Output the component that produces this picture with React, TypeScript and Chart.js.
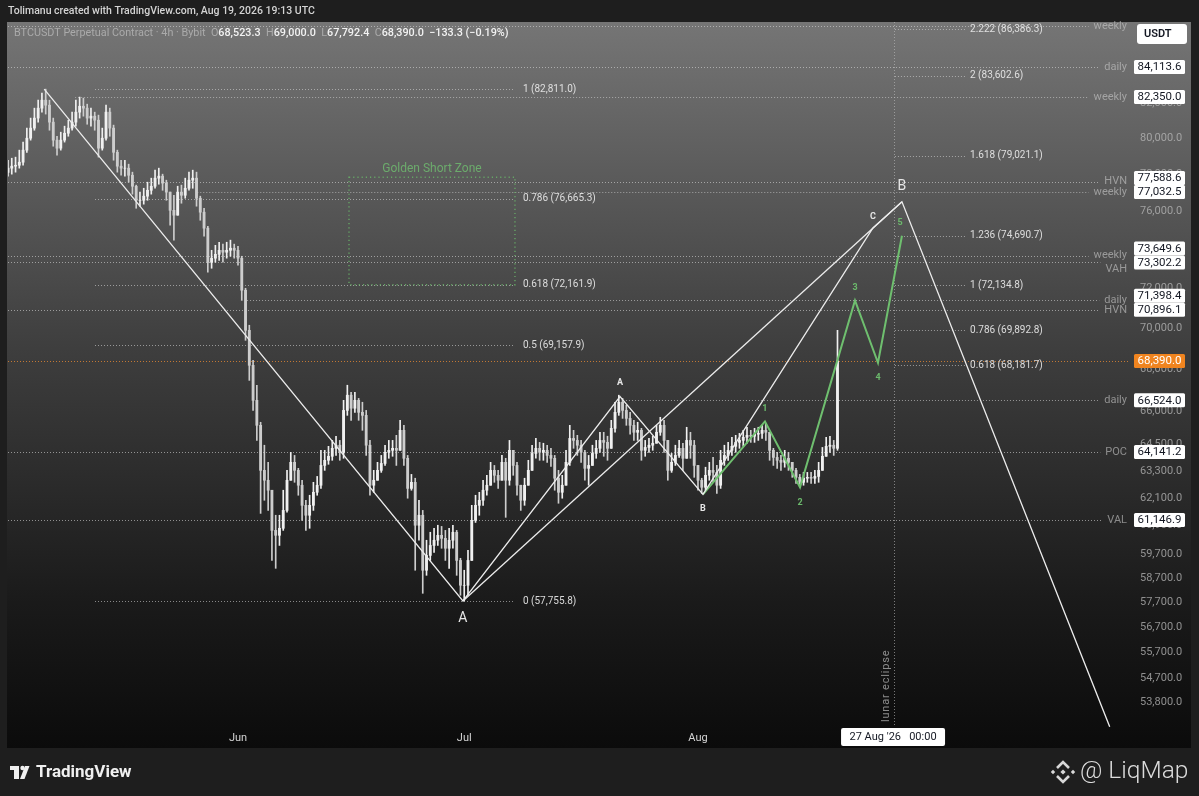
import React, { useEffect, useRef } from 'react';
import { Chart, registerables } from 'chart.js';

Chart.register(...registerables);

// ---------- DATA ----------
// x values are days from 2026-06-01 00:00 UTC; candles are 12h bars
const candleStartDay = -30.5;
const candleStepDays = 0.5;
const firstOpen = 78100;

const closes = [
  78330, 78440, 78490, 78660, 79330, 80000, 80570, 81140, 81710, 82170,
  81880, 80910, 79890, 79440, 79890, 80280, 80570, 80910, 81480, 81820,
  81710, 81140, 81250, 81020, 79440, 80000, 81480, 80570, 79210, 78440,
  78330, 78330, 77940, 77340, 76580, 76580, 76800, 77120, 77340, 77780,
  77890, 77510, 77020, 76040, 75780, 77020, 76850, 77230, 77670, 77780,
  76690, 75940, 75090, 73310, 73520, 73720, 73930, 73830, 73930, 74040,
  73930, 73520, 71880, 69880, 68180, 66520, 65360, 63320, 62880, 62440,
  60700, 60490, 60790, 61560, 62880, 63680, 63320, 62660, 61780, 61350,
  61780, 62350, 62660, 63540, 63770, 63950, 64310, 64450, 64130, 66050,
  66760, 66150, 66520, 65960, 65820, 64450, 62660, 62880, 63320, 63630,
  64130, 64220, 64310, 64220, 65130, 63860, 62520, 62790, 60920, 61350,
  59020, 59640, 60060, 60280, 60490, 60360, 59940, 60280, 60620, 59430,
  58400, 58400, 59430, 61130, 61780, 62000, 62440, 62660, 63320, 63100,
  62880, 63680, 62880, 64220, 63540, 62660, 62000, 62660, 63320, 64080,
  64310, 64130, 64220, 63990, 63860, 62970, 62350, 62660, 63680, 64760,
  64670, 64450, 64130, 63410, 63540, 64080, 64310, 64670, 64580, 64310,
  65220, 65960, 66430, 66050, 65680, 65360, 65040, 65130, 64220, 64350,
  64450, 64540, 65040, 65360, 64670, 63320, 63680, 63990, 64310, 63860,
  64670, 64450, 63540, 62880, 62570, 63100, 63320, 63230, 62660, 63770,
  63990, 64220, 64400, 64580, 64670, 64810, 64900, 64860, 64950, 64990,
  65130, 65040, 64220, 63900, 63770, 63680, 63860, 63680, 63320, 63010,
  62790, 62970, 63010, 62970, 63050, 63320, 63950, 64400, 64450, 64310,
  68390,
];

const highs = [
  78770, 78880, 78940, 79330, 79780, 80570, 81140, 81710, 82170, 82580,
  82811, 82170, 81140, 80110, 80340, 80680, 81020, 81480, 82170, 82350,
  82290, 81940, 81710, 81480, 81310, 80570, 81880, 81710, 80740, 79330,
  78770, 78770, 78550, 78110, 77400, 77020, 77230, 77560, 77780, 78220,
  78330, 78000, 77670, 77020, 76850, 77340, 77400, 77780, 78110, 78220,
  78110, 76800, 76150, 75190, 73930, 74190, 74350, 74250, 74350, 74460,
  74250, 74140, 73620, 71980, 70130, 68420, 67230, 65500, 64450, 63680,
  62440, 61350, 61350, 62440, 63320, 64130, 63990, 63410, 62880, 62000,
  62220, 62790, 63050, 64220, 64220, 64400, 64670, 64860, 64670, 66520,
  67230, 66900, 66900, 66610, 66430, 66050, 64670, 63320, 63680, 63990,
  64450, 64670, 64670, 64900, 65590, 65360, 63990, 63140, 62970, 62000,
  61560, 60280, 60620, 60790, 60920, 60870, 60700, 60790, 60920, 60700,
  59520, 59020, 59850, 61780, 62220, 62350, 62880, 63100, 63680, 63540,
  63320, 63990, 63860, 64670, 64220, 63680, 62660, 62970, 63770, 64450,
  64760, 64580, 64540, 64450, 64310, 63990, 63320, 63100, 64220, 65360,
  65130, 64900, 64670, 64220, 63990, 64450, 64670, 65040, 65040, 64860,
  65590, 66430, 66760, 66610, 66290, 65960, 65590, 65500, 65220, 64670,
  64760, 64860, 65360, 65730, 65590, 64450, 64080, 64450, 64670, 64540,
  65270, 65040, 64670, 63320, 62970, 63460, 63680, 63900, 63540, 64220,
  64450, 64580, 64810, 64900, 64990, 65130, 65270, 65130, 65220, 65270,
  65360, 65450, 65040, 64310, 64130, 63990, 64220, 64130, 63680, 63410,
  63140, 63230, 63230, 63230, 63320, 63680, 64350, 64810, 64860, 64670,
  69880,
];

const lows = [
  77890, 78000, 78110, 78330, 78490, 79210, 79890, 80450, 80910, 81480,
  81370, 80450, 79550, 79050, 79330, 79780, 80110, 80450, 80680, 81140,
  81250, 80790, 80680, 80450, 78940, 79330, 79890, 80110, 78770, 78110,
  77940, 77890, 77560, 76910, 76150, 76260, 76370, 76580, 76910, 77230,
  77450, 77120, 76580, 75250, 74460, 75780, 76420, 76690, 77120, 77230,
  76260, 75510, 74670, 72800, 73000, 73310, 73410, 73310, 73520, 73620,
  73520, 73160, 71370, 69390, 67460, 66050, 64670, 61430, 62000, 61560,
  59430, 59100, 60060, 60700, 61480, 62880, 62790, 62220, 61130, 60700,
  60790, 61560, 62220, 62520, 63320, 63590, 63770, 63990, 63770, 63860,
  65820, 65590, 65960, 65590, 65130, 63990, 62220, 62350, 62880, 63230,
  63540, 63860, 63950, 63540, 64450, 63540, 62090, 62440, 59020, 60280,
  58070, 58810, 59430, 59770, 60060, 59940, 59430, 59100, 59940, 58810,
  57990, 57756, 57990, 59430, 61040, 61350, 61780, 62220, 62660, 62790,
  62520, 63100, 61260, 62660, 63100, 62220, 61560, 61780, 62660, 63320,
  63860, 63770, 63770, 63680, 63500, 62440, 61870, 62090, 62880, 63540,
  64310, 63990, 63680, 62880, 62660, 63540, 63860, 64130, 63950, 63770,
  64310, 65040, 65820, 65680, 65360, 64950, 64670, 64670, 63770, 63950,
  64130, 64220, 64580, 64900, 64130, 62880, 63230, 63540, 63900, 63320,
  64220, 63860, 63010, 62440, 62300, 62440, 62880, 62790, 62300, 62520,
  63540, 63770, 63990, 64130, 64310, 64400, 64540, 64580, 64580, 64670,
  64760, 64670, 63770, 63540, 63410, 63320, 63460, 63320, 63010, 62740,
  62570, 62660, 62790, 62740, 62740, 62790, 63540, 63990, 64130, 63990,
  64220,
];

const monthTickDays = [0, 30, 61];
const monthTickLabels = ['Jun', 'Jul', 'Aug'];
const priceTicks = [
  86000, 84000, 82000, 80000, 78000, 76000, 74000, 72000, 70000, 68000, 66000,
  64500, 63300, 62100, 60900, 59700, 58700, 57700, 56700, 55700, 54700, 53800,
];
const priceMin = 52854;
const priceMax = 86819;
const dayMin = -30.5;
const dayMax = 118.29;

// horizontal levels with right-side tags
const levelPrices = [86575, 84113.6, 82350.0, 77588.6, 77032.5, 73649.6, 73302.2, 71398.4, 70896.1, 66524.0, 64141.2, 61146.9];
const levelTags = ['weekly', 'daily', 'weekly', 'HVN', 'weekly', 'weekly', 'VAH', 'daily', 'HVN', 'daily', 'POC', 'VAL'];
const levelStartDays = [-30.5, -30.5, -21.6, -30.5, -5.4, -30.5, -30.5, 1.2, -30.5, 51.05, -30.5, -30.5];
const levelHasBox = [false, true, true, true, true, true, true, true, true, true, true, true];
const lastPrice = 68390.0;

// Fib retracement (left) and extension (right)
const leftFibRatios = ['1', '0.786', '0.618', '0.5', '0'];
const leftFibPrices = [82811.0, 76665.3, 72161.9, 69157.9, 57755.8];
const leftFibDays = [-18.96, 36.73];
const rightFibRatios = ['2.222', '2', '1.618', '1.236', '1', '0.786', '0.618'];
const rightFibPrices = [86386.3, 83602.6, 79021.1, 74690.7, 72134.8, 69892.8, 68181.7];
const rightFibDays = [87.12, 96.41];

// Golden short zone box
const zoneDays = [14.72, 36.73];
const zonePrices = [77830, 72161.9];

// Wave drawings
const abcDays = [-25.7, 29.83, 50.66, 61.66, 84.2, 88.05, 115.6];
const abcPrices = [82811, 57755.8, 66700, 62260, 75099, 76500, 52860];
const abLegDays = [29.83, 88.05];
const abLegPrices = [57755.8, 76500];
const impulseDays = [61.66, 69.88, 74.53, 81.82, 84.87, 88.05];
const impulsePrices = [62260, 65540, 62570, 71370, 68300, 74690.7];
const impulseLabels = ['', '1', '2', '3', '4', '5'];

const eclipseDay = 87;

// ---------- helpers ----------
const FONT = 'Roboto, "Liberation Sans", "DejaVu Sans", sans-serif';
const fmt1 = (v: number) => v.toLocaleString('en-US', { minimumFractionDigits: 1, maximumFractionDigits: 1 });

function txt(ctx: CanvasRenderingContext2D, s: string, x: number, y: number, font: string, color: string, align: CanvasTextAlign = 'left') {
  ctx.font = font;
  ctx.fillStyle = color;
  ctx.textAlign = align;
  ctx.textBaseline = 'middle';
  ctx.fillText(s, x, y);
}

function dotted(ctx: CanvasRenderingContext2D, x0: number, y0: number, x1: number, y1: number, color: string, dash: number[] = [1, 2], w = 1) {
  ctx.save();
  ctx.strokeStyle = color;
  ctx.lineWidth = w;
  ctx.setLineDash(dash);
  ctx.beginPath();
  ctx.moveTo(x0, y0);
  ctx.lineTo(x1, y1);
  ctx.stroke();
  ctx.restore();
}

function roundRect(ctx: CanvasRenderingContext2D, x: number, y: number, w: number, h: number, r: number, fill: string) {
  ctx.fillStyle = fill;
  ctx.beginPath();
  ctx.roundRect(x, y, w, h, r);
  ctx.fill();
}

const overlayPlugin = {
  id: 'tvOverlay',
  beforeDraw(chart: any) {
    const ctx: CanvasRenderingContext2D = chart.ctx;
    ctx.save();
    ctx.fillStyle = '#1e1e1e';
    ctx.fillRect(0, 0, chart.width, chart.height);
    const g = ctx.createLinearGradient(0, 22, 0, 748);
    g.addColorStop(0, '#757575');
    g.addColorStop(0.45, '#3e3e3e');
    g.addColorStop(0.8, '#1a1a1a');
    g.addColorStop(1, '#0b0b0b');
    ctx.fillStyle = g;
    ctx.fillRect(7, 22, 1184, 726);
    ctx.restore();
  },
  beforeDatasetsDraw(chart: any) {
    const ctx: CanvasRenderingContext2D = chart.ctx;
    const xs = chart.scales.x;
    const ys = chart.scales.y;
    const area = chart.chartArea;
    const px = (d: number) => xs.getPixelForValue(d);
    const py = (p: number) => ys.getPixelForValue(p);
    const lineCol = 'rgba(215,215,215,0.6)';
    ctx.save();
    ctx.font = `11px ${FONT}`;
    const tagRight = 1127;
    levelPrices.forEach((p, i) => {
      const y = Math.round(py(p)) + 0.5;
      const w = ctx.measureText(levelTags[i]).width;
      dotted(ctx, px(levelStartDays[i]), y, tagRight - w - 5, y, lineCol);
    });
    const yl = Math.round(py(lastPrice)) + 0.5;
    dotted(ctx, area.left, yl, area.right, yl, 'rgba(240,140,50,0.75)');
    leftFibPrices.forEach((p) => {
      const y = Math.round(py(p)) + 0.5;
      dotted(ctx, px(leftFibDays[0]), y, px(leftFibDays[1]), y, lineCol);
    });
    rightFibPrices.forEach((p) => {
      const y = Math.round(py(p)) + 0.5;
      dotted(ctx, px(rightFibDays[0]), y, px(rightFibDays[1]), y, lineCol);
    });
    const xe = Math.round(px(eclipseDay)) + 0.5;
    dotted(ctx, xe, area.top, xe, area.bottom, 'rgba(190,190,190,0.6)', [1, 2]);
    const zx0 = px(zoneDays[0]);
    const zx1 = px(zoneDays[1]);
    const zy0 = py(zonePrices[0]);
    const zy1 = py(zonePrices[1]);
    ctx.save();
    ctx.strokeStyle = 'rgba(105,180,105,0.85)';
    ctx.lineWidth = 1.4;
    ctx.setLineDash([1.2, 3]);
    ctx.strokeRect(zx0, zy0, zx1 - zx0, zy1 - zy0);
    ctx.restore();
    txt(ctx, 'Golden Short Zone', (zx0 + zx1) / 2, zy0 - 8, `12px ${FONT}`, 'rgba(110,180,110,0.9)', 'center');
    ctx.restore();
  },
  afterDraw(chart: any) {
    const ctx: CanvasRenderingContext2D = chart.ctx;
    const xs = chart.scales.x;
    const ys = chart.scales.y;
    const area = chart.chartArea;
    const px = (d: number) => xs.getPixelForValue(d);
    const py = (p: number) => ys.getPixelForValue(p);
    ctx.save();

    const tagRight = 1127;
    let prevTag = -100;
    levelPrices.forEach((p, i) => {
      let y = py(p);
      if (y - prevTag < 8) y = prevTag + 14;
      prevTag = y;
      txt(ctx, levelTags[i], tagRight, y, `11px ${FONT}`, 'rgba(200,200,200,0.62)', 'right');
    });

    const boxY: number[] = levelPrices.map((p) => py(p));
    for (let i = boxY.length - 2; i >= 0; i--) {
      if (levelHasBox[i] && levelHasBox[i + 1] && boxY[i + 1] - boxY[i] < 14) boxY[i] = boxY[i + 1] - 14;
    }
    levelPrices.forEach((p, i) => {
      if (!levelHasBox[i]) return;
      const y = boxY[i];
      roundRect(ctx, 1134, y - 7, 51, 14, 1.5, '#ffffff');
      txt(ctx, fmt1(p), 1159.5, y + 0.5, `11.5px ${FONT}`, '#131722', 'center');
    });
    const yl = py(lastPrice);
    roundRect(ctx, 1134, yl - 7, 51, 14, 1.5, '#f0841f');
    txt(ctx, fmt1(lastPrice), 1159.5, yl + 0.5, `11.5px ${FONT}`, '#ffffff', 'center');

    roundRect(ctx, 1137, 24, 50, 20, 3, '#ffffff');
    txt(ctx, 'USDT', 1144, 34.5, `600 11px ${FONT}`, '#131722', 'left');

    leftFibPrices.forEach((p, i) => {
      txt(ctx, `${leftFibRatios[i]} (${fmt1(p)})`, px(leftFibDays[1]) + 8, py(p), `10px ${FONT}`, 'rgba(235,235,235,0.9)');
    });
    rightFibPrices.forEach((p, i) => {
      txt(ctx, `${rightFibRatios[i]} (${fmt1(p)})`, px(rightFibDays[1]) + 5, py(p), `10px ${FONT}`, 'rgba(235,235,235,0.9)');
    });

    const white = '#e6e6e6';
    txt(ctx, 'A', px(abcDays[1]), py(abcPrices[1]) + 17, `14px ${FONT}`, white, 'center');
    txt(ctx, 'B', px(abcDays[5]), py(abcPrices[5]) - 15, `14px ${FONT}`, white, 'center');
    txt(ctx, 'A', px(abcDays[2]), py(abcPrices[2]) - 14, `bold 9px ${FONT}`, white, 'center');
    txt(ctx, 'B', px(abcDays[3]), py(abcPrices[3]) + 14, `bold 9px ${FONT}`, white, 'center');
    txt(ctx, 'C', px(abcDays[4]), py(abcPrices[4]) - 11, `bold 9px ${FONT}`, white, 'center');
    impulseLabels.forEach((s, i) => {
      if (!s) return;
      const up = i % 2 === 1;
      txt(ctx, s, px(impulseDays[i]) - (i === 5 ? 2 : 0), py(impulsePrices[i]) + (up ? -13 : 15), `bold 9px ${FONT}`, '#6cba6c', 'center');
    });

    const xe = px(eclipseDay);
    ctx.save();
    ctx.translate(xe - 8, 722);
    ctx.rotate(-Math.PI / 2);
    (ctx as any).letterSpacing = '0.8px';
    txt(ctx, 'lunar eclipse', 0, 0, `11px ${FONT}`, 'rgba(170,170,170,0.8)', 'left');
    ctx.restore();
    roundRect(ctx, xe - 53, area.bottom + 1, 104, 18, 2, '#ffffff');
    txt(ctx, "27 Aug '26   00:00", xe - 1, area.bottom + 10.5, `11px ${FONT}`, '#131722', 'center');

    txt(ctx, 'Tolimanu created with TradingView.com, Aug 19, 2026 19:13 UTC', 8, 11, `500 10.5px ${FONT}`, '#d4d4d4');
    const legend: [string, string, string][] = [
      ['BTCUSDT Perpetual Contract · 4h · Bybit', 'rgba(215,215,215,0.55)', '10.8px'],
      ['  O', 'rgba(215,215,215,0.55)', '10.8px'],
      ['68,523.3', '#f2f2f2', '500 10.8px'],
      ['  H', 'rgba(215,215,215,0.55)', '10.8px'],
      ['69,000.0', '#f2f2f2', '500 10.8px'],
      ['  L', 'rgba(215,215,215,0.55)', '10.8px'],
      ['67,792.4', '#f2f2f2', '500 10.8px'],
      ['  C', 'rgba(215,215,215,0.55)', '10.8px'],
      ['68,390.0', '#f2f2f2', '500 10.8px'],
      ['  −133.3 (−0.19%)', '#f2f2f2', '500 10.8px'],
    ];
    let lx = 14;
    legend.forEach(([s, c, f]) => {
      ctx.font = `${f} ${FONT}`;
      txt(ctx, s, lx, 33, `${f} ${FONT}`, c);
      lx += ctx.measureText(s).width;
    });

    ctx.fillStyle = '#f0f0f0';
    ctx.fillRect(10, 766, 9, 4);
    ctx.fillRect(14, 766, 5, 13);
    ctx.beginPath();
    ctx.arc(22.5, 768, 2.2, 0, Math.PI * 2);
    ctx.fill();
    ctx.beginPath();
    ctx.moveTo(25, 766);
    ctx.lineTo(29.5, 766);
    ctx.lineTo(24.5, 779);
    ctx.lineTo(20, 779);
    ctx.closePath();
    ctx.fill();
    txt(ctx, 'TradingView', 36, 772.5, `bold 17px ${FONT}`, '#f0f0f0');

    const cx = 1063;
    const cy = 772;
    const dia = (x: number, y: number, r: number) => {
      ctx.beginPath();
      ctx.moveTo(x, y - r);
      ctx.lineTo(x + r, y);
      ctx.lineTo(x, y + r);
      ctx.lineTo(x - r, y);
      ctx.closePath();
      ctx.fill();
    };
    ctx.fillStyle = '#d8d8d8';
    dia(cx - 10, cy, 2.2);
    dia(cx + 10, cy, 2.2);
    ctx.save();
    ctx.strokeStyle = '#d8d8d8';
    ctx.lineWidth = 2.6;
    ctx.beginPath();
    ctx.moveTo(cx - 6, cy - 4);
    ctx.lineTo(cx, cy - 10);
    ctx.lineTo(cx + 6, cy - 4);
    ctx.moveTo(cx - 6, cy + 4);
    ctx.lineTo(cx, cy + 10);
    ctx.lineTo(cx + 6, cy + 4);
    ctx.stroke();
    ctx.restore();
    dia(cx, cy, 2.6);
    txt(ctx, '@ LiqMap', 1080, 772, `300 24.5px ${FONT}`, '#dcdcdc');
    ctx.restore();
  },
};

export default function App() {
  const ref = useRef<HTMLCanvasElement | null>(null);

  useEffect(() => {
    document.body.style.background = '#1e1e1e';
    const canvas = ref.current;
    if (!canvas) return;
    const opens = [firstOpen, ...closes.slice(0, -1)];
    const days = closes.map((_, i) => candleStartDay + i * candleStepDays);
    const hi = highs.map((h, i) => Math.max(h, opens[i], closes[i]));
    const lo = lows.map((l, i) => Math.min(l, opens[i], closes[i]));
    const colors = closes.map((c, i) => (c >= opens[i] ? '#f0f0f0' : '#cdcdcd'));

    const chart = new Chart(canvas, {
      type: 'bar',
      data: {
        datasets: [
          {
            type: 'line',
            data: abcDays.map((d, i) => ({ x: d, y: abcPrices[i] })),
            borderColor: '#ececec',
            borderWidth: 1.3,
            pointRadius: 0,
            tension: 0,
            order: 0,
          } as any,
          {
            type: 'line',
            data: abLegDays.map((d, i) => ({ x: d, y: abLegPrices[i] })),
            borderColor: '#ececec',
            borderWidth: 1.3,
            pointRadius: 0,
            tension: 0,
            order: 0,
          } as any,
          {
            type: 'line',
            data: impulseDays.map((d, i) => ({ x: d, y: impulsePrices[i] })),
            borderColor: '#6fbf6f',
            borderWidth: 2,
            pointRadius: 0,
            tension: 0,
            order: 0,
          } as any,
          {
            type: 'bar',
            data: days.map((d, i) => ({ x: d, y: [lo[i], hi[i]] })),
            backgroundColor: colors,
            barThickness: 1,
            grouped: false,
            order: 2,
          } as any,
          {
            type: 'bar',
            data: days.map((d, i) => ({ x: d, y: [opens[i], closes[i]] })),
            backgroundColor: colors,
            barThickness: 2.2,
            grouped: false,
            order: 1,
          } as any,
        ],
      },
      options: {
        responsive: false,
        animation: false,
        devicePixelRatio: 1,
        layout: { padding: { left: 8, top: 22, right: 8, bottom: 48 } },
        plugins: { legend: { display: false }, tooltip: { enabled: false } },
        scales: {
          x: {
            type: 'linear',
            min: dayMin,
            max: dayMax,
            offset: false,
            position: 'bottom',
            grid: { display: false, drawTicks: false },
            border: { display: false },
            afterBuildTicks: (s: any) => {
              s.ticks = monthTickDays.map((v) => ({ value: v }));
            },
            afterFit: (s: any) => {
              s.height = 21;
            },
            ticks: {
              color: '#d4d4d4',
              font: { size: 11, family: FONT },
              padding: 5,
              maxRotation: 0,
              autoSkip: false,
              callback: (v: any) => {
                const k = monthTickDays.indexOf(Number(v));
                return k >= 0 ? monthTickLabels[k] : '';
              },
            },
          },
          y: {
            type: 'logarithmic',
            min: priceMin,
            max: priceMax,
            position: 'right',
            grid: { display: false, drawTicks: false },
            border: { display: false },
            afterBuildTicks: (s: any) => {
              s.ticks = priceTicks.map((v) => ({ value: v }));
            },
            afterFit: (s: any) => {
              s.width = 61;
            },
            ticks: {
              color: 'rgba(185,185,185,0.75)',
              font: { size: 11, family: FONT },
              padding: 10,
              autoSkip: false,
              callback: (v: any) => fmt1(Number(v)),
            },
          },
        },
      } as any,
      plugins: [overlayPlugin],
    });
    return () => chart.destroy();
  }, []);

  return (
    <div style={{ position: 'fixed', left: 0, top: 0, width: 1199, height: 796, background: '#1e1e1e' }}>
      <canvas ref={ref} width={1199} height={796} style={{ display: 'block', width: 1199, height: 796 }} />
    </div>
  );
}
